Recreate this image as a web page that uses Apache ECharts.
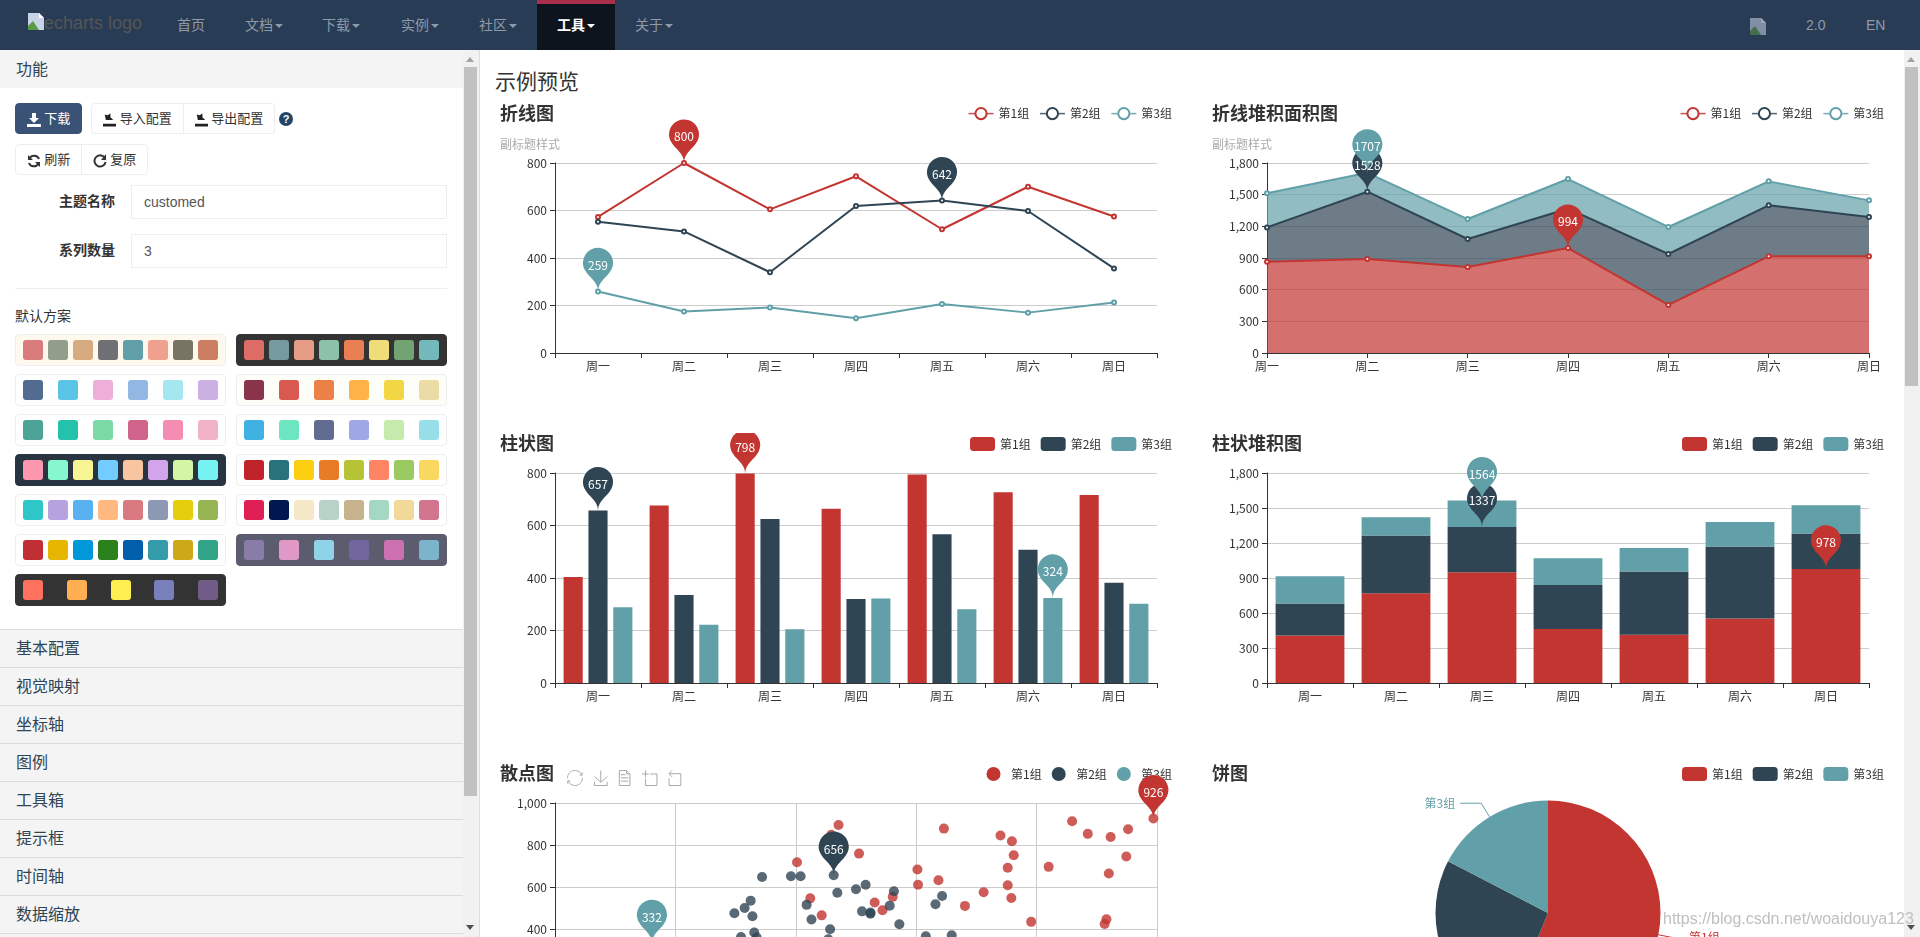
<!DOCTYPE html>
<html><head><meta charset="utf-8"><title>ECharts 主题构建工具</title>
<script src="https://cdn.jsdelivr.net/npm/echarts@6/dist/echarts.min.js"></script>
<style>
*{box-sizing:border-box}
html,body{margin:0;padding:0;width:1920px;height:937px;overflow:hidden;background:#fff;font-family:"Liberation Sans","Noto Sans CJK SC",sans-serif;color:#333}
.abs{position:absolute;white-space:nowrap}
#nav{position:absolute;left:0;top:0;width:1920px;height:50px;background:#293c55}
#nav .it{position:absolute;top:0;height:50px;line-height:50px;font-size:14px;color:#8e9aa9}
.car{display:inline-block;width:0;height:0;margin-left:2px;vertical-align:middle;border-top:4px solid currentColor;border-left:4px solid transparent;border-right:4px solid transparent}
#side{position:absolute;left:0;top:50px;width:480px;height:887px;border-right:1px solid #ddd;overflow:hidden}
.acc{position:absolute;left:0;width:463px;height:38px;background:#f4f4f4;border-top:1px solid #ddd;font-size:16px;line-height:37px;padding-left:16px;color:#2f4554}
.btn{position:absolute;height:31px;border:1px solid #eee;background:#fff;font-size:13px;line-height:29px;color:#333;text-align:center}
.ctl{position:absolute;left:131px;width:316px;height:34px;border:1px solid #eee;font-size:14px;line-height:32px;padding-left:12px;color:#555}
.lbl{position:absolute;left:0;width:115px;text-align:right;font-size:14px;font-weight:bold;color:#333}
.pal{position:absolute;width:211px;height:32px;border:1px solid #eee;border-radius:4px;display:flex;justify-content:space-between;align-items:center;padding:0 7px}
.pal i{display:block;width:20px;height:20px;border-radius:3px}
.track{position:absolute;background:#f1f1f1}
.thumb{position:absolute;background:#c1c1c1}
.ar{position:absolute;width:0;height:0;border-left:4px solid transparent;border-right:4px solid transparent}
.chart{position:absolute;width:682px;height:300px;overflow:hidden}
svg{vertical-align:middle}
</style></head><body>
<div id="nav"></div>
<div id="side"></div>
<div class="abs" style="left:495px;top:66px;font-size:21px;line-height:28px;color:#333;font-family:'Noto Sans CJK SC',sans-serif">示例预览</div>
<div id="c0" class="chart" style="left:495px;top:103px"></div>
<div id="c1" class="chart" style="left:1207px;top:103px"></div>
<div id="c2" class="chart" style="left:495px;top:433px"></div>
<div id="c3" class="chart" style="left:1207px;top:433px"></div>
<div id="c4" class="chart" style="left:495px;top:763px"></div>
<div id="c5" class="chart" style="left:1207px;top:763px"></div>
<div class="track" style="left:1904px;top:50px;width:16px;height:887px"></div>
<div class="thumb" style="left:1905px;top:67px;width:13px;height:319px"></div>
<div class="ar" style="left:1907px;top:57px;border-bottom:5px solid #a3a3a3"></div>
<div class="ar" style="left:1907px;top:925px;border-top:5px solid #505050"></div>
<div class="abs" style="left:1663px;top:908px;font-size:16px;line-height:22px;color:rgba(170,170,170,.75);text-shadow:0 0 1px rgba(255,255,255,.7)">https://blog.csdn.net/woaidouya123</div>
<script>
var days = ['周一','周二','周三','周四','周五','周六','周日'];
var groups = ['第1组','第2组','第3组'];
var colors = ['#c23531','#2f4554','#61a0a8'];
var lineA = [573,800,605,744,521,700,575];
var lineB = [553,512,340,619,642,598,356];
var lineC = [259,175,192,146,206,170,213];
var areaA = [865,890,815,994,455,916,916];
var areaB = [325,638,265,373,483,483,372];
var areaC = [323,179,189,281,256,227,158];
var barA = [404,676,798,664,794,727,716];
var barB = [657,335,625,320,567,508,382];
var barC = [289,222,205,322,281,324,302];
var stackA = [408,770,950,462,414,553,978];
var stackB = [274,494,387,377,542,617,303];
var stackC = [234,157,227,231,202,211,242];
var scatterA = [[471,895],[459,849],[505,759],[402,718],[646,878],[740,845],[759,818],[762,751],[752,692],[752,608],[758,548],[712,575],[681,510],[820,696],[859,913],[885,853],[923,838],[952,875],[949,745],[920,664],[994,926],[916,446],[913,424],[791,434],[602,683],[603,611],[637,632],[561,553],[531,526],[544,489],[424,546],[443,465]];
var scatterB = [[344,648],[392,651],[408,651],[463,656],[469,573],[500,589],[516,611],[563,580],[643,557],[632,518],[556,511],[510,484],[524,473],[524,478],[572,423],[418,515],[426,445],[457,399],[325,535],[315,500],[298,475],[328,461],[331,383],[309,362],[335,359],[454,351],[616,365],[659,370]];
var scatterC = [[161,332],[240,210],[380,150],[520,260],[690,120],[830,240]];
var pieValues = [562,264,174];
var navItems = [['首页',177,0],['文档',245,1],['下载',322,1],['实例',401,1],['社区',479,1],['关于',635,1]];
var accTop = ['基本配置','视觉映射','坐标轴','图例','工具箱','提示框','时间轴','数据缩放','',''];
var palettes = [
 ['#fef8ef',['#d87c7c','#919e8b','#d7ab82','#6e7074','#61a0a8','#efa18d','#787464','#cc7e63']],
 ['#333333',['#dd6b66','#759aa0','#e69d87','#8dc1a9','#ea7e53','#eedd78','#73a373','#73b9bc']],
 ['#ffffff',['#516b91','#59c4e6','#edafda','#93b7e3','#a5e7f0','#cbb0e3']],
 ['#fefef8',['#893448','#d95850','#eb8146','#ffb248','#f2d643','#ebdba4']],
 ['#ffffff',['#4ea397','#22c3aa','#7bd9a5','#d0648a','#f58db2','#f2b3c9']],
 ['#ffffff',['#3fb1e3','#6be6c1','#626c91','#a0a7e6','#c4ebad','#96dee8']],
 ['#293441',['#fc97af','#87f7cf','#f7f494','#72ccff','#f7c5a0','#d4a4eb','#d2f5a6','#76f2f2']],
 ['#ffffff',['#c1232b','#27727b','#fcce10','#e87c25','#b5c334','#fe8463','#9bca63','#fad860']],
 ['#ffffff',['#2ec7c9','#b6a2de','#5ab1ef','#ffb980','#d87a80','#8d98b3','#e5cf0d','#97b552']],
 ['#ffffff',['#e01f54','#001852','#f5e8c8','#b8d2c7','#c6b38e','#a4d8c2','#f3d999','#d3758f']],
 ['#ffffff',['#c12e34','#e6b600','#0098d9','#2b821d','#005eaa','#339ca8','#cda819','#32a487']],
 ['#5b5c6e',['#8a7ca8','#e098c7','#8fd3e8','#71669e','#cc70af','#7cb4cc']],
 ['#333333',['#ff715e','#ffaf51','#ffee51','#797fba','#715c87']]
];

/* page chrome */
function brokenImg(o){return '<svg width="16" height="17" viewBox="0 0 16 17" style="opacity:'+o+'"><path d="M0 0h11l5 5v12H0z" fill="#c9d3e6"/><path d="M0 17v-4l5-5 6 9z" fill="#5a9a46"/><path d="M11 0l5 5h-5z" fill="#fff"/></svg>';}
var nav = document.getElementById('nav'), h='';
h+='<div class="abs" style="left:28px;top:13px;line-height:0">'+brokenImg(1)+'</div>';
h+='<div class="abs" style="left:44px;top:0;line-height:46px;font-size:18px;color:#555">echarts logo</div>';
navItems.forEach(function(n){h+='<div class="it" style="left:'+n[1]+'px">'+n[0]+(n[2]?'<span class="car"></span>':'')+'</div>';});
h+='<div class="abs" style="left:537px;top:0;width:78px;height:50px;background:#0d141e;border-top:4px solid #a92f4a"></div>';
h+='<div class="it" style="left:557px;color:#fff;font-weight:bold">工具<span class="car"></span></div>';
h+='<div class="abs" style="left:1750px;top:18px;line-height:0">'+brokenImg(.55)+'</div>';
h+='<div class="it" style="left:1806px">2.0</div><div class="it" style="left:1866px">EN</div>';
nav.innerHTML=h;

var icoDown=function(c){return '<svg width="14" height="14" viewBox="0 0 14 14"><path d="M5 0h4v5h3l-5 5-5-5h3z M0 11h14v3H0z" fill="'+c+'"/></svg>';};
var icoUp=function(c){return '<svg width="13" height="14" viewBox="0 0 14 14"><path d="M2 1l3 1 3-2v4l3 3H3z M0 11h14v3H0z" fill="'+c+'"/></svg>';};
var icoRef=function(){return '<svg width="14" height="14" viewBox="0 0 14 14"><path d="M12 5A5.2 5.2 0 0 0 2.5 4.5M2 9a5.2 5.2 0 0 0 9.5.5" fill="none" stroke="#333" stroke-width="2"/><path d="M1 1v5h5zM13 13V8H8z" fill="#333"/></svg>';};
var icoRes=function(){return '<svg width="14" height="14" viewBox="0 0 14 14"><path d="M11.5 3.5A5.6 5.6 0 1 0 12.6 8" fill="none" stroke="#333" stroke-width="2"/><path d="M13 0v6H8z" fill="#333"/></svg>';};
var side=document.getElementById('side'); h='';
h+='<div class="abs" style="left:0;top:0;width:463px;height:38px;background:#f4f4f4;font-size:16px;line-height:39px;padding-left:16px;color:#2f4554">功能</div>';
h+='<div class="btn" style="left:15px;top:53px;width:67px;background:#3a5275;border-color:#3a5275;color:#fff;border-radius:4px">'+icoDown('#fff')+' 下载</div>';
h+='<div class="btn" style="left:91px;top:53px;width:93px;border-radius:4px 0 0 4px">'+icoUp('#222')+' 导入配置</div>';
h+='<div class="btn" style="left:183px;top:53px;width:92px;border-radius:0 4px 4px 0">'+icoUp('#222')+' 导出配置</div>';
h+='<div class="abs" style="left:279px;top:62px;width:14px;height:14px;border-radius:50%;background:#234468;color:#fff;font-size:11px;font-weight:bold;line-height:14px;text-align:center">?</div>';
h+='<div class="btn" style="left:15px;top:94px;width:67px;border-radius:4px 0 0 4px">'+icoRef()+' 刷新</div>';
h+='<div class="btn" style="left:81px;top:94px;width:67px;border-radius:0 4px 4px 0">'+icoRes()+' 复原</div>';
h+='<div class="lbl" style="top:141px;line-height:20px">主题名称</div><div class="ctl" style="top:135px">customed</div>';
h+='<div class="lbl" style="top:190px;line-height:20px">系列数量</div><div class="ctl" style="top:184px">3</div>';
h+='<div class="abs" style="left:15px;top:238px;width:432px;height:1px;background:#eee"></div>';
h+='<div class="abs" style="left:15px;top:257px;font-size:14px;line-height:18px;color:#333">默认方案</div>';
palettes.forEach(function(p,i){
  var col=i%2,row=Math.floor(i/2);
  h+='<div class="pal" style="left:'+(col?236:15)+'px;top:'+(284+row*40)+'px;background:'+p[0]+(p[0]!=='#ffffff'&&p[0][1]!=='f'?';border-color:'+p[0]:'')+'">';
  p[1].forEach(function(c){h+='<i style="background:'+c+'"></i>';});
  h+='</div>';
});
accTop.forEach(function(t,i){h+='<div class="acc" style="top:'+(579+i*38)+'px">'+t+'</div>';});
h+='<div class="track" style="left:463px;top:0;width:16px;height:887px"></div>';
h+='<div class="thumb" style="left:464px;top:17px;width:13px;height:729px"></div>';
h+='<div class="ar" style="left:466px;top:7px;border-bottom:5px solid #a3a3a3"></div>';
h+='<div class="ar" style="left:466px;top:875px;border-top:5px solid #505050"></div>';
side.innerHTML=h;

/* charts */
var FONT='"Noto Sans CJK SC",sans-serif';
function title(t,sub){return {text:t,subtext:sub||'',left:0,top:0,padding:[1,5],itemGap:16,textStyle:{fontSize:18,fontWeight:'bold',color:'#333',fontFamily:FONT},subtextStyle:{fontSize:12,color:'#aaa',fontFamily:FONT}};}
function legend(icon){return {right:5,top:4,padding:0,itemWidth:25,itemHeight:14,itemGap:10,icon:icon,data:groups,itemStyle:{opacity:1,borderWidth:icon?0:1},lineStyle:{width:1.5,opacity:.85},textStyle:{fontSize:12,color:'#333',fontFamily:FONT}};}
function xCat(gap){return {type:'category',data:days,boundaryGap:gap,axisLine:{show:true,lineStyle:{color:'#333'}},axisTick:{show:true,alignWithLabel:false,length:5,lineStyle:{color:'#333'}},axisLabel:{color:'#333',fontSize:12,margin:7,fontFamily:FONT,showMinLabel:true,showMaxLabel:true,hideOverlap:false,interval:0},splitLine:{show:false}};}
function yVal(max,step){return {type:'value',min:0,max:max,interval:step,axisLine:{show:true,lineStyle:{color:'#333'}},axisTick:{show:true,length:5,lineStyle:{color:'#333'}},axisLabel:{color:'#333',fontSize:12,margin:8,padding:[0,0,2,0],fontFamily:FONT},splitLine:{show:true,lineStyle:{color:'#ccc'}}};}
function pin(color,text){var label={color:'#fff',fontSize:12,fontFamily:FONT};if(text!==undefined)label.formatter=String(text);return {symbol:'pin',symbolSize:50,label:label,itemStyle:{color:color},data:[{type:'max'}]};}
/* largest running total of a stack, shown on the pin as in the reference */
function stackTop(arrs){return Math.max.apply(null,days.map(function(_,k){return arrs.reduce(function(s,a){return s+a[k];},0);}));}
function lineS(i,d,stack){var s={name:groups[i],type:'line',data:d,symbol:'emptyCircle',symbolSize:4,showSymbol:true,showAllSymbol:true,smooth:false,lineStyle:{width:2,color:colors[i]},itemStyle:{color:colors[i],borderWidth:1},markPoint:pin(colors[i],stack)};if(stack!==undefined){s.stack='a';s.areaStyle={opacity:.7,color:colors[i]};}return s;}
function barS(i,d,stack){var s={name:groups[i],type:'bar',data:d,barGap:'30%',barCategoryGap:'20%',itemStyle:{color:colors[i]},markPoint:pin(colors[i],stack)};if(stack!==undefined)s.stack='a';return s;}
function base(t,sub,icon,top){return {animation:false,textStyle:{fontFamily:FONT},title:title(t,sub),legend:legend(icon),grid:{left:60,right:20,top:top,bottom:50,containLabel:false}};}
function mk(id,opt){echarts.init(document.getElementById(id),null,{renderer:'canvas'}).setOption(opt);}

var o0=base('折线图','副标题样式',undefined,60);
o0.xAxis=xCat(true);o0.yAxis=yVal(800,200);
o0.series=[lineS(0,lineA),lineS(1,lineB),lineS(2,lineC)];mk('c0',o0);

var o1=base('折线堆积面积图','副标题样式',undefined,60);
o1.xAxis=xCat(false);o1.yAxis=yVal(1800,300);
o1.series=[lineS(0,areaA,stackTop([areaA])),lineS(1,areaB,stackTop([areaA,areaB])),lineS(2,areaC,stackTop([areaA,areaB,areaC]))];mk('c1',o1);

var o2=base('柱状图','','roundRect',40);
o2.xAxis=xCat(true);o2.yAxis=yVal(800,200);
o2.series=[barS(0,barA),barS(1,barB),barS(2,barC)];mk('c2',o2);

var o3=base('柱状堆积图','','roundRect',40);
o3.xAxis=xCat(true);o3.yAxis=yVal(1800,300);
o3.series=[barS(0,stackA,stackTop([stackA])),barS(1,stackB,stackTop([stackA,stackB])),barS(2,stackC,stackTop([stackA,stackB,stackC]))];mk('c3',o3);

var o4=base('散点图','','circle',40);
o4.xAxis=yVal(1000,200);o4.xAxis.axisLine.onZero=false;o4.xAxis.axisLabel.padding=0;
o4.yAxis=yVal(1000,200);
o4.toolbox={left:55,top:-10,itemSize:15,itemGap:7,showTitle:false,iconStyle:{borderColor:'#aaa',color:'none'},feature:{restore:{},saveAsImage:{},dataView:{},dataZoom:{}}};
function scatterS(i,d){return {name:groups[i],type:'scatter',data:d,symbolSize:10,itemStyle:{color:colors[i],opacity:.8},markPoint:pin(colors[i])};}
o4.series=[scatterS(0,scatterA),scatterS(1,scatterB),scatterS(2,scatterC)];mk('c4',o4);

var labelTail=[10,15,21];
var o5=base('饼图','','roundRect',40);delete o5.grid;
o5.series=[{type:'pie',radius:112.5,center:[341,150],startAngle:90,clockwise:true,
  data:groups.map(function(g,i){return {name:g,value:pieValues[i],itemStyle:{color:colors[i]},label:{color:colors[i]},labelLine:{length2:labelTail[i]}};}),
  label:{show:true,position:'outside',fontSize:12,fontFamily:FONT},
  labelLine:{show:true,length:16,length2:15,smooth:false}}];mk('c5',o5);
</script>
</body></html>
